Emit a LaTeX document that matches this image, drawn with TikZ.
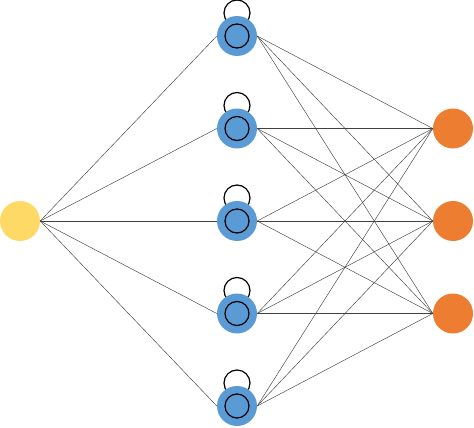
\documentclass[tikz,border=0pt]{standalone}
\usetikzlibrary{backgrounds}
\definecolor{inyellow}{HTML}{FFD966}
\definecolor{hidblue}{HTML}{5B9BD5}
\definecolor{outorange}{HTML}{ED7D31}
\definecolor{edgegray}{HTML}{404040}
\begin{document}
\begin{tikzpicture}[x=1pt,y=-1pt,
  neuron/.style={circle,minimum size=40pt,inner sep=0pt,draw=none},
  inneuron/.style={neuron,fill=inyellow},
  hidneuron/.style={neuron,fill=hidblue},
  outneuron/.style={neuron,fill=outorange},
  conn/.style={draw=edgegray,line width=0.45pt},
  ring/.style={draw=black,line width=1.2pt}]
\useasboundingbox (0,0) rectangle (474,428);
\node[inneuron] (i) at (20,221) {};
\foreach \k/\y in {1/36,2/128.5,3/221,4/313.5,5/406}{
  \node[hidneuron] (h\k) at (237,\y) {};
  \draw[ring] (h\k.center) circle (12pt);
  \begin{scope}[on background layer]
    \draw[ring] ([yshift=23pt]h\k.center) circle (13pt);
  \end{scope}
}
\foreach \k/\y in {1/128.5,2/221,3/313.5}{
  \node[outneuron] (o\k) at (453,\y) {};
}
\begin{scope}[on background layer]
\foreach \k in {1,...,5}{
  \draw[conn] (i.east) -- (h\k.west);
  \foreach \m in {1,2,3}{
    \draw[conn] (h\k.east) -- (o\m.west);
  }
}
\end{scope}
\end{tikzpicture}
\end{document}
